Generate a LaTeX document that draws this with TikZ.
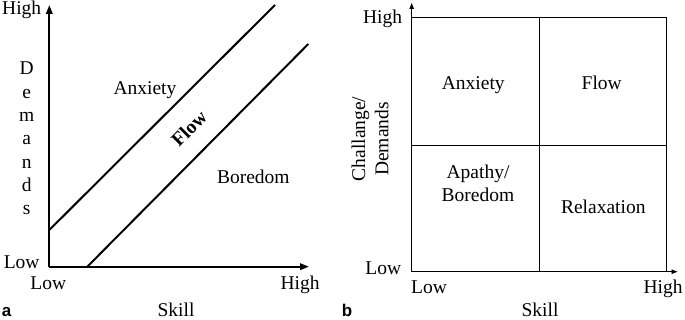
\documentclass[tikz,border=0pt]{standalone}
\usepackage{fontspec}
\setmainfont{Liberation Serif}
\newfontfamily\tagfont{Liberation Sans}
\usetikzlibrary{arrows.meta,positioning}
\definecolor{ink}{RGB}{0,0,0}

\begin{document}
\begin{tikzpicture}[x=1pt,y=-1pt,
  lbl/.style={font=\fontsize{19.5}{23.3}\selectfont, inner sep=0pt, anchor=base, text=ink},
  tag/.style={font=\tagfont\bfseries\fontsize{17}{20}\selectfont, inner sep=0pt, anchor=base west, text=ink},
  axisA/.style={draw=ink, line width=2pt, -{Triangle[length=9pt,width=6.5pt]}},
  bandline/.style={draw=ink, line width=2pt},
  axisB/.style={draw=ink, line width=0.9pt, -{Triangle[length=6pt,width=4.5pt]}},
  gridline/.style={draw=ink, line width=0.9pt}]
  \useasboundingbox (0,0) rectangle (685,320);

  % panel a: diagonal flow channel
  \coordinate (aO) at (49.3,266.7);
  \coordinate (aYtip) at (49.3,5);
  \coordinate (aXtip) at (309,266.7);
  \coordinate (upA) at (49.3,230);
  \coordinate (upB) at (275,5);
  \coordinate (loA) at (87.3,266.7);
  \coordinate (loB) at (308.3,44);
  \draw[axisA] (aO) -- (aYtip);
  \draw[axisA] (aO) -- (aXtip);
  \draw[bandline] (upA) -- (upB);
  \draw[bandline] (loA) -- (loB);

  \node[lbl] (aHighY) at (21.7,14.3) {High};
  \node[lbl] (aLowY) at (21.7,268.3) {Low};
  \node[lbl] (aLowX) at (48.3,290) {Low};
  \node[lbl] (aHighX) at (300,290) {High};
  \node[lbl] (aSkill) at (176,316.7) {Skill};
  \foreach \ch [count=\k] in {D,e,m,a,n,d,s}
    \node[lbl] (aDem\k) at (26.7,{75+23.3*(\k-1)}) {\ch};
  \node[lbl] (aAnx) at (145,95) {Anxiety};
  \node[lbl] (aBore) at (253.3,183.3) {Boredom};
  \node[lbl, anchor=center, font=\bfseries\fontsize{19.5}{23.3}\selectfont, rotate=45] (aFlow) at (189,128.5) {Flow};
  \node[tag] (aTag) at (1.7,316.7) {a};

  % panel b: four quadrants
  \coordinate (bSW) at (411.7,271.7);
  \coordinate (bNE) at (666.7,17.3);
  \coordinate (bYtip) at (411.7,3);
  \coordinate (bXtip) at (677.5,271.7);
  \coordinate (bMidN) at (539.3,17.3);
  \coordinate (bMidS) at (539.3,271.7);
  \coordinate (bMidW) at (411.7,145.7);
  \coordinate (bMidE) at (666.7,145.7);
  \draw[gridline] (bSW) rectangle (bNE);
  \draw[gridline] (bMidN) -- (bMidS);
  \draw[gridline] (bMidW) -- (bMidE);
  \draw[axisB] (bSW) -- (bYtip);
  \draw[axisB] (bSW) -- (bXtip);

  \node[lbl] (bHighY) at (382.5,23.3) {High};
  \node[lbl] (bLowY) at (383.3,275) {Low};
  \node[lbl] (bLowX) at (429,293.3) {Low};
  \node[lbl] (bHighX) at (663,293.3) {High};
  \node[lbl] (bSkill) at (540,316.7) {Skill};
  \node[lbl, anchor=center, align=center, rotate=90] (bDem) at (370,139) {Challange/\\Demands};
  \node[lbl] (bAnx) at (473.3,89.3) {Anxiety};
  \node[lbl] (bFlow) at (601.7,89.3) {Flow};
  \node[lbl, align=center, anchor=base] (bApathy) at (478,201.7) {Apathy/\\Boredom};
  \node[lbl] (bRelax) at (603.3,213.3) {Relaxation};
  \node[tag] (bTag) at (341.7,316.7) {b};
\end{tikzpicture}
\end{document}
